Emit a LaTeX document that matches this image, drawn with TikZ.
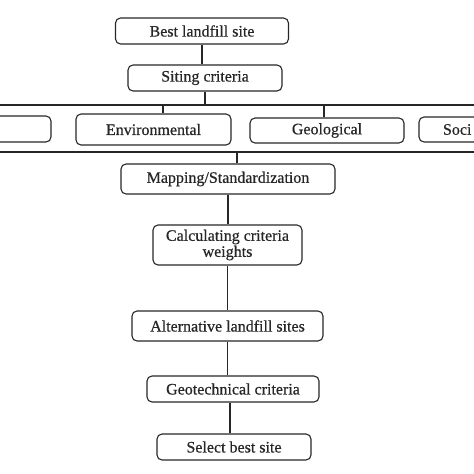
\documentclass[tikz,border=0pt]{standalone}
\usepackage{fontspec}
\setmainfont[FakeBold=0.6]{Liberation Serif}
\usetikzlibrary{positioning}
\begin{document}
\begin{tikzpicture}[x=1pt,y=-1pt]
\tikzstyle{stage}=[rectangle, rounded corners=5pt, draw=black!85, line width=1.1pt, inner sep=0pt, font=\fontsize{16}{16}\selectfont, align=center, text=black!85]
\tikzstyle{link}=[draw=black!85, line width=1.1pt]
\tikzstyle{frame}=[rectangle, draw=black!85, line width=1.1pt, inner sep=0pt]
\useasboundingbox (0,0) rectangle (474,474);
\clip (0,0) rectangle (474,474);
    \node[stage, minimum width=173pt, minimum height=26pt] (best) at (202,31) {Best landfill site};
    \node[stage, minimum width=154pt, minimum height=26pt] (siting) at (205,78) {Siting criteria};
    % criteria band
    \node[frame, minimum width=520pt, minimum height=47pt] (band) at (237,128.5) {};
    \node[stage, minimum width=155pt, minimum height=26pt] (econ) at (-26.5,129) {};
    \node[stage, minimum width=155pt, minimum height=31pt] (env) at (153.5,129.5) {Environmental};
    \node[stage, minimum width=154pt, minimum height=25pt] (geo) at (327,130.5) {Geological};
    \node[stage, minimum width=155pt, minimum height=25pt, text width=107pt, align=left] (socio) at (496.5,129.5) {Soci};
    % main chain
    \node[stage, minimum width=214pt, minimum height=30pt] (mapping) at (228,179) {Mapping/Standardization};
    \node[stage, minimum width=149pt, minimum height=40pt] (weights) at (227.5,245) {Calculating criteria\\weights};
    \node[stage, minimum width=191pt, minimum height=30pt] (alt) at (227.5,326) {Alternative landfill sites};
    \node[stage, minimum width=172pt, minimum height=26pt] (geotech) at (233,389) {Geotechnical criteria};
    \node[stage, minimum width=154pt, minimum height=26pt] (select) at (234,447) {Select best site};
    \path[link] (best.south) -- (best.south |- siting.north)
          (siting.south) -- (siting.south |- band.north)
          ([xshift=9.5pt]env.north) -- ([xshift=9.5pt]env.north |- band.north)
          ([xshift=-3pt]geo.north) -- ([xshift=-3pt]geo.north |- band.north)
          ([xshift=9pt]mapping.north) -- ([xshift=9pt]mapping.north |- band.south)
          (mapping.south) -- (mapping.south |- weights.north)
          (weights.south) -- (weights.south |- alt.north)
          (alt.south) -- (alt.south |- geotech.north)
          ([xshift=-3pt]geotech.south) -- ([xshift=-3pt]geotech.south |- select.north);
\end{tikzpicture}
\end{document}
